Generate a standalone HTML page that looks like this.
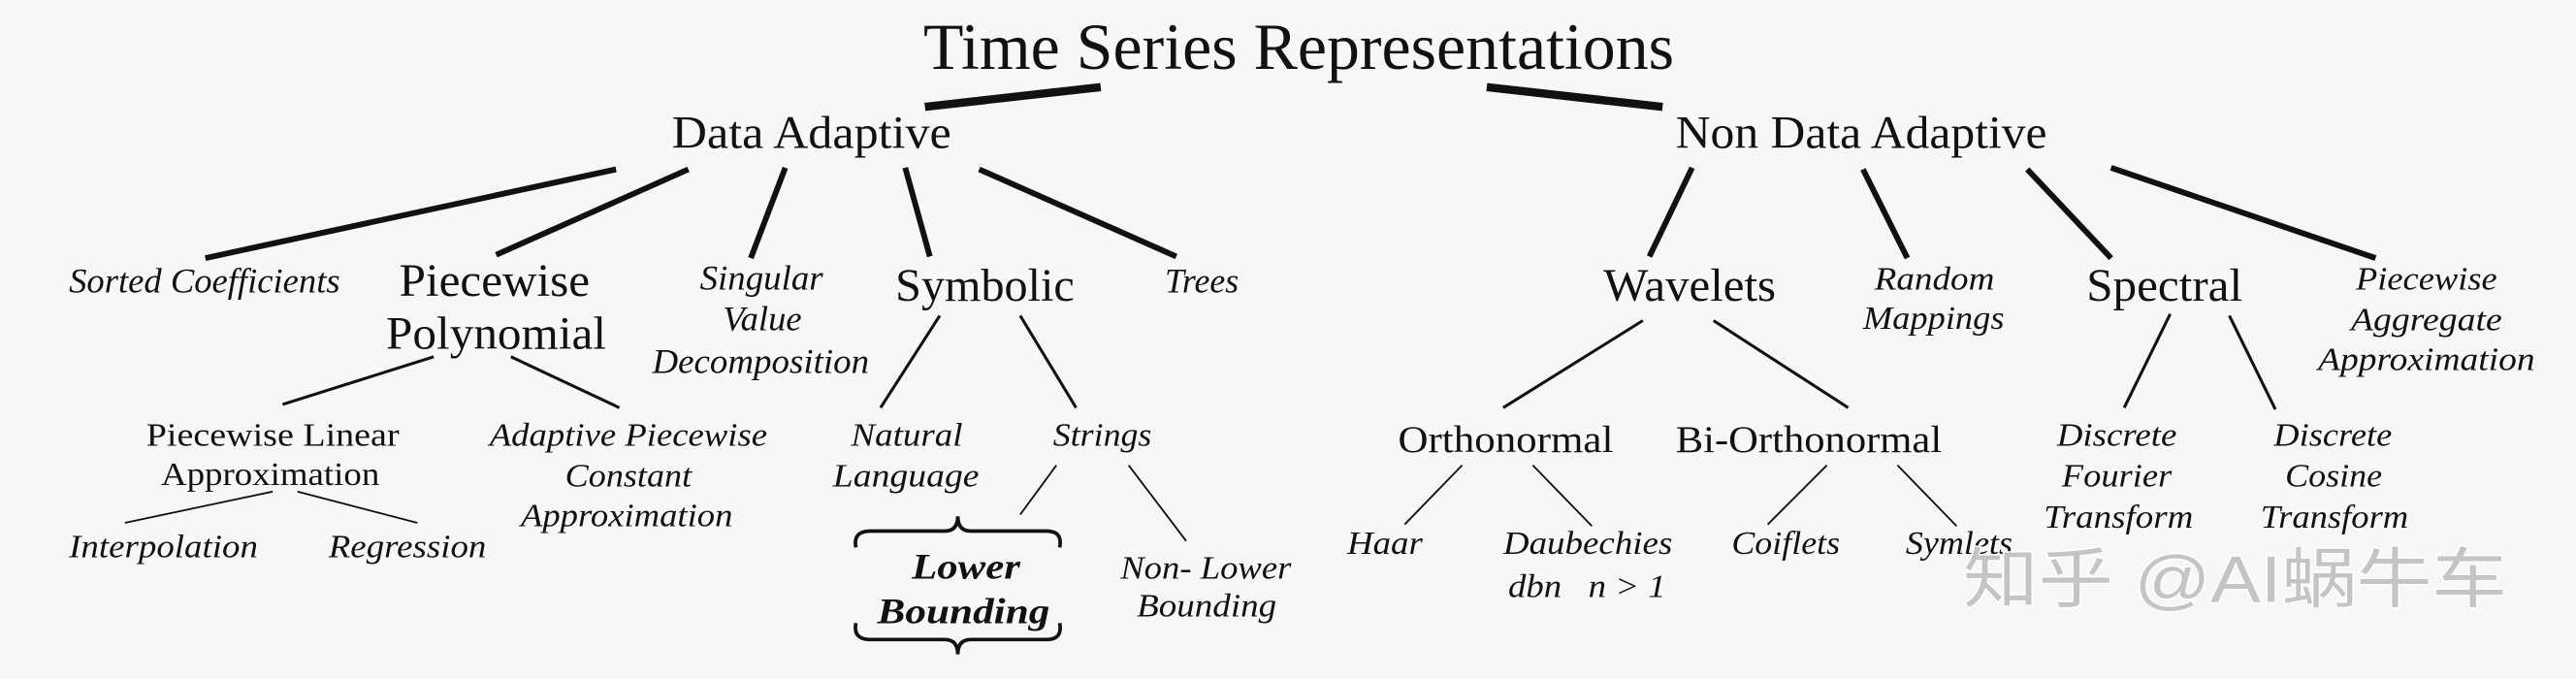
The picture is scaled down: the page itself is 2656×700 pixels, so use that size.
<!DOCTYPE html>
<html><head><meta charset="utf-8"><style>
html,body{margin:0;padding:0;background:#f7f7f7;}
svg{display:block;}
text{font-family:"Liberation Serif",serif;fill:#111;}
.i{font-style:italic;}
</style></head><body>
<svg width="2656" height="700" viewBox="0 0 1568 413" preserveAspectRatio="none" xmlns="http://www.w3.org/2000/svg">
<rect width="1568" height="413" fill="#f7f7f7"/>
<g stroke="#111" stroke-linecap="butt" fill="none">
<line x1="563" y1="65" x2="670" y2="53" stroke-width="5"/>
<line x1="905" y1="53" x2="1012" y2="65" stroke-width="5"/>
<g stroke-width="3.5">
<line x1="375" y1="103" x2="125" y2="157"/>
<line x1="419" y1="103" x2="302" y2="155"/>
<line x1="478" y1="102" x2="457" y2="157"/>
<line x1="551" y1="102" x2="566" y2="156"/>
<line x1="596" y1="103" x2="716" y2="156"/>
<line x1="1030" y1="102" x2="1004" y2="156"/>
<line x1="1134" y1="103" x2="1161" y2="157"/>
<line x1="1234" y1="103" x2="1285" y2="157"/>
<line x1="1285" y1="102" x2="1446" y2="157"/>
</g>
<g stroke-width="1.8">
<line x1="264" y1="217" x2="172" y2="246"/>
<line x1="311" y1="217" x2="377" y2="248"/>
<line x1="572" y1="192" x2="536" y2="248"/>
<line x1="621" y1="192" x2="655" y2="248"/>
<line x1="1000" y1="195" x2="915" y2="248"/>
<line x1="1043" y1="195" x2="1125" y2="248"/>
<line x1="1321" y1="191" x2="1293" y2="248"/>
<line x1="1357" y1="192" x2="1385" y2="249"/>
</g>
<g stroke-width="1.1">
<line x1="166" y1="299" x2="76" y2="318"/>
<line x1="181" y1="299" x2="254" y2="318"/>
<line x1="643" y1="283" x2="621" y2="313"/>
<line x1="687" y1="283" x2="722" y2="329"/>
<line x1="890" y1="283" x2="855" y2="319"/>
<line x1="933" y1="283" x2="969" y2="320"/>
<line x1="1112" y1="283" x2="1076" y2="319"/>
<line x1="1155" y1="283" x2="1191" y2="320"/>
</g>
<g stroke-width="2.2">
<path d="M521,333 Q519,323 530,323 L575,323 Q583,323 583,314 Q583,323 591,323 L637,323 Q647,323 645,333"/>
<path d="M521,379 Q519,389 530,389 L575,389 Q583,389 583,398 Q583,389 591,389 L637,389 Q647,389 645,379"/>
</g>
</g>
<text x="562" y="42" font-size="40" textLength="457" lengthAdjust="spacingAndGlyphs">Time Series Representations</text>
<text x="409" y="90" font-size="28" textLength="170" lengthAdjust="spacingAndGlyphs">Data Adaptive</text>
<text x="1020" y="90" font-size="28" textLength="226" lengthAdjust="spacingAndGlyphs">Non Data Adaptive</text>

<text class="i" x="42" y="178" font-size="21" textLength="165" lengthAdjust="spacingAndGlyphs">Sorted Coefficients</text>
<text x="243" y="180" font-size="28" textLength="116" lengthAdjust="spacingAndGlyphs">Piecewise</text>
<text x="235" y="212" font-size="28" textLength="134" lengthAdjust="spacingAndGlyphs">Polynomial</text>
<text class="i" x="426" y="176" font-size="21" textLength="75" lengthAdjust="spacingAndGlyphs">Singular</text>
<text class="i" x="440" y="201" font-size="21" textLength="48" lengthAdjust="spacingAndGlyphs">Value</text>
<text class="i" x="397" y="227" font-size="21" textLength="132" lengthAdjust="spacingAndGlyphs">Decomposition</text>
<text x="545" y="183" font-size="28" textLength="109" lengthAdjust="spacingAndGlyphs">Symbolic</text>
<text class="i" x="709" y="178" font-size="21" textLength="45" lengthAdjust="spacingAndGlyphs">Trees</text>

<text x="89" y="271" font-size="20" textLength="154" lengthAdjust="spacingAndGlyphs">Piecewise  Linear</text>
<text x="98" y="295" font-size="20" textLength="133" lengthAdjust="spacingAndGlyphs">Approximation</text>
<text class="i" x="42" y="339" font-size="20" textLength="115" lengthAdjust="spacingAndGlyphs">Interpolation</text>
<text class="i" x="200" y="339" font-size="20" textLength="96" lengthAdjust="spacingAndGlyphs">Regression</text>
<text class="i" x="298" y="271" font-size="20" textLength="169" lengthAdjust="spacingAndGlyphs">Adaptive Piecewise</text>
<text class="i" x="344" y="296" font-size="20" textLength="77" lengthAdjust="spacingAndGlyphs">Constant</text>
<text class="i" x="317" y="320" font-size="20" textLength="129" lengthAdjust="spacingAndGlyphs">Approximation</text>
<text class="i" x="518" y="271" font-size="20" textLength="68" lengthAdjust="spacingAndGlyphs">Natural</text>
<text class="i" x="507" y="296" font-size="20" textLength="89" lengthAdjust="spacingAndGlyphs">Language</text>
<text class="i" x="641" y="271" font-size="20" textLength="60" lengthAdjust="spacingAndGlyphs">Strings</text>
<text class="i" x="555" y="352" font-size="22" font-weight="bold" textLength="66" lengthAdjust="spacingAndGlyphs">Lower</text>
<text class="i" x="534" y="379" font-size="22" font-weight="bold" textLength="105" lengthAdjust="spacingAndGlyphs">Bounding</text>
<text class="i" x="682" y="352" font-size="20" textLength="104" lengthAdjust="spacingAndGlyphs">Non- Lower</text>
<text class="i" x="692" y="375" font-size="20" textLength="85" lengthAdjust="spacingAndGlyphs">Bounding</text>

<text x="976" y="183" font-size="28" textLength="105" lengthAdjust="spacingAndGlyphs">Wavelets</text>
<text class="i" x="1141" y="176" font-size="20" textLength="73" lengthAdjust="spacingAndGlyphs">Random</text>
<text class="i" x="1134" y="200" font-size="20" textLength="86" lengthAdjust="spacingAndGlyphs">Mappings</text>
<text x="1270" y="183" font-size="28" textLength="95" lengthAdjust="spacingAndGlyphs">Spectral</text>
<text class="i" x="1434" y="176" font-size="20" textLength="86" lengthAdjust="spacingAndGlyphs">Piecewise</text>
<text class="i" x="1431" y="201" font-size="20" textLength="92" lengthAdjust="spacingAndGlyphs">Aggregate</text>
<text class="i" x="1411" y="225" font-size="20" textLength="132" lengthAdjust="spacingAndGlyphs">Approximation</text>

<text x="851" y="275" font-size="23" textLength="131" lengthAdjust="spacingAndGlyphs">Orthonormal</text>
<text x="1020" y="275" font-size="23" textLength="162" lengthAdjust="spacingAndGlyphs">Bi-Orthonormal</text>
<text class="i" x="820" y="337" font-size="20" textLength="46" lengthAdjust="spacingAndGlyphs">Haar</text>
<text class="i" x="915" y="337" font-size="20" textLength="103" lengthAdjust="spacingAndGlyphs">Daubechies</text>
<text class="i" x="918" y="363" font-size="20" textLength="96" lengthAdjust="spacingAndGlyphs" xml:space="preserve">dbn   n &gt; 1</text>
<text class="i" x="1054" y="337" font-size="20" textLength="66" lengthAdjust="spacingAndGlyphs">Coiflets</text>
<text class="i" x="1160" y="337" font-size="20" textLength="65" lengthAdjust="spacingAndGlyphs">Symlets</text>

<text class="i" x="1252" y="271" font-size="20" textLength="73" lengthAdjust="spacingAndGlyphs">Discrete</text>
<text class="i" x="1255" y="296" font-size="20" textLength="67" lengthAdjust="spacingAndGlyphs">Fourier</text>
<text class="i" x="1244" y="321" font-size="20" textLength="91" lengthAdjust="spacingAndGlyphs">Transform</text>
<text class="i" x="1384" y="271" font-size="20" textLength="72" lengthAdjust="spacingAndGlyphs">Discrete</text>
<text class="i" x="1391" y="296" font-size="20" textLength="59" lengthAdjust="spacingAndGlyphs">Cosine</text>
<text class="i" x="1376" y="321" font-size="20" textLength="90" lengthAdjust="spacingAndGlyphs">Transform</text>

<text x="1195" y="366" font-size="40" textLength="331" lengthAdjust="spacingAndGlyphs" style="font-family:'Liberation Sans','Noto Sans CJK SC',sans-serif;fill:#c4c4c4;stroke:#ffffff;stroke-width:1.5;paint-order:stroke;">知乎 @AI蜗牛车</text>
</svg>
</body></html>
